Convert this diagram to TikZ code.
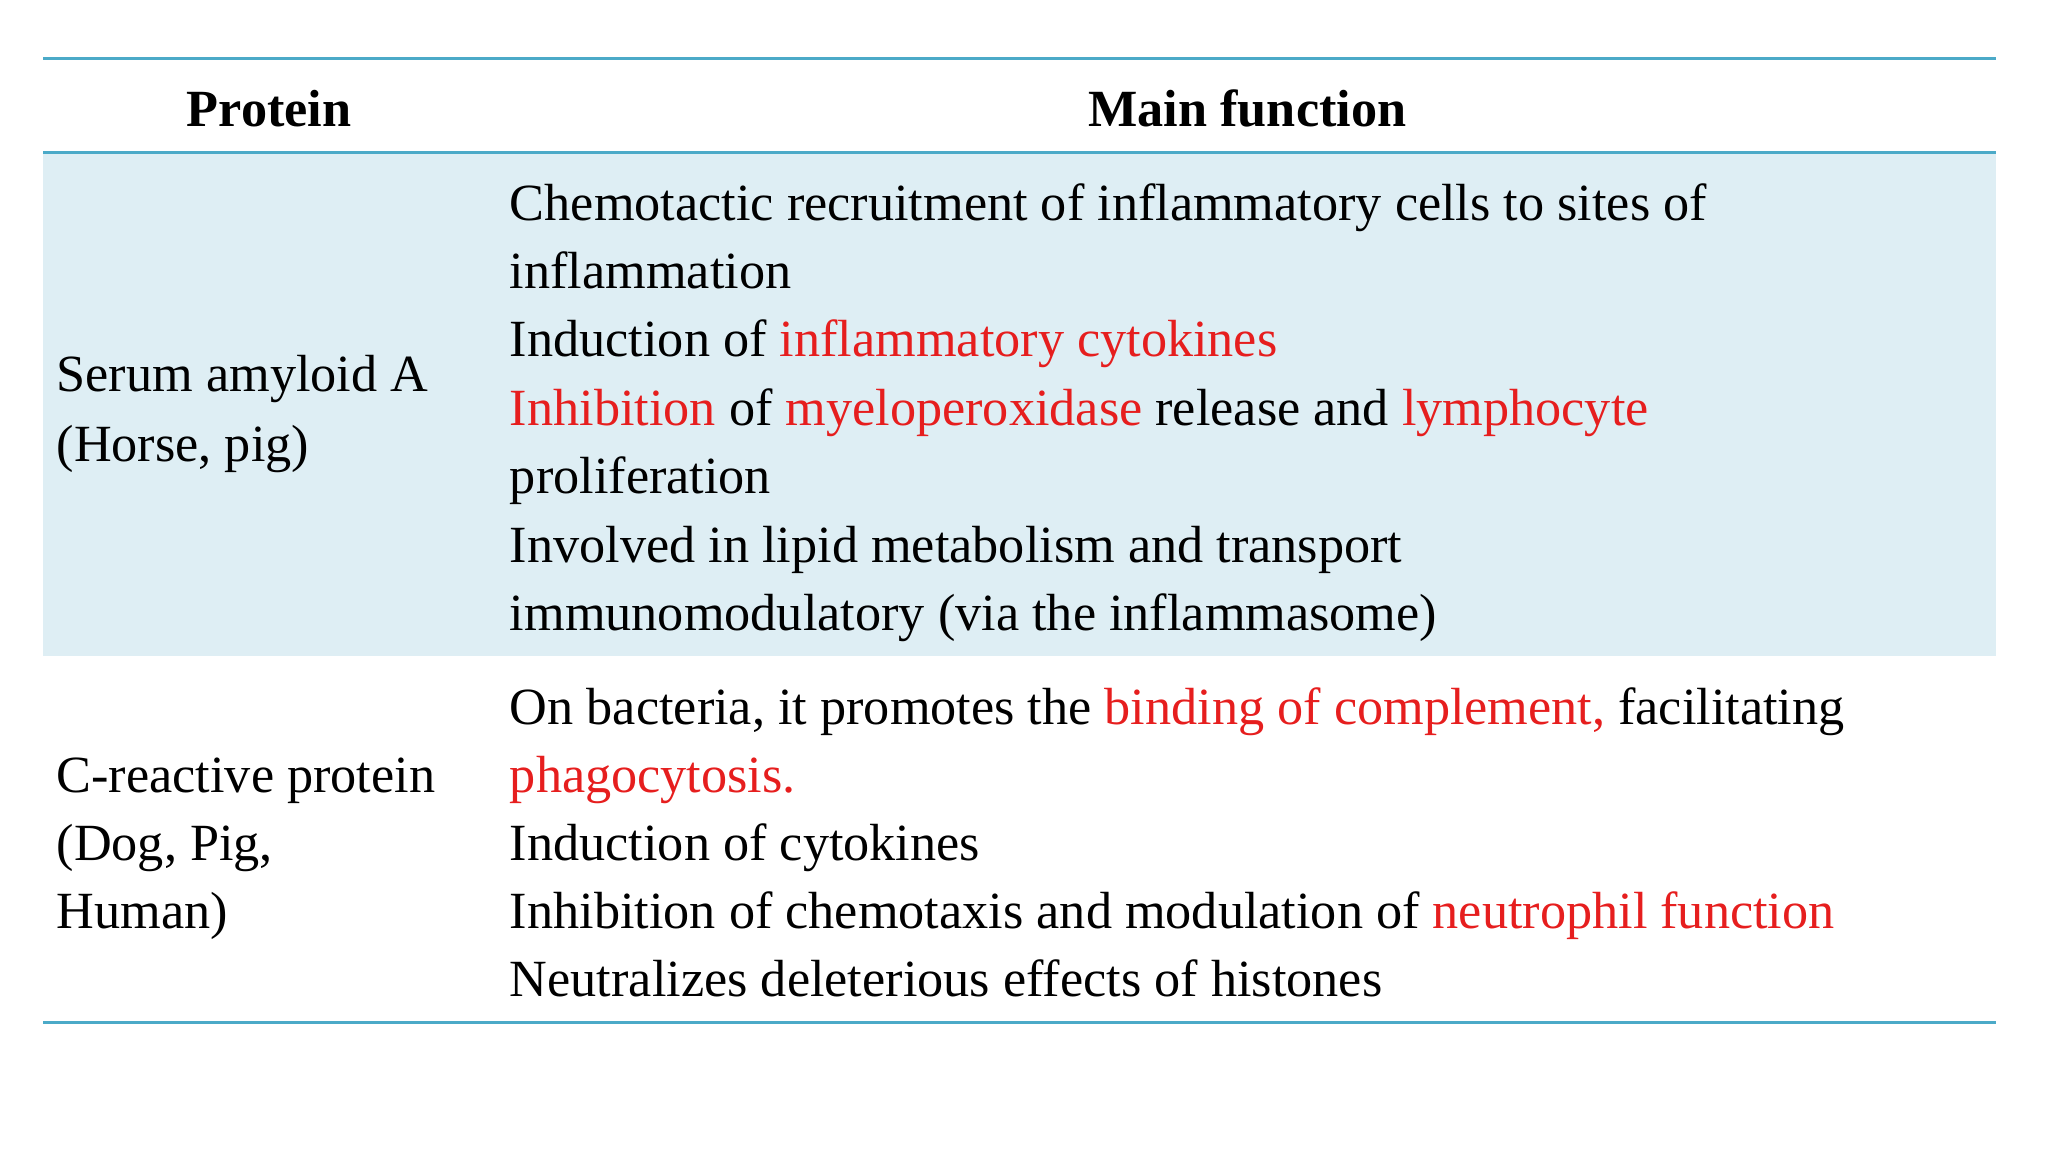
\documentclass[tikz,border=0pt]{standalone}
\usepackage{fontspec}
\setmainfont{Liberation Serif}
\definecolor{rule}{RGB}{75,170,200}
\definecolor{band}{RGB}{222,238,244}
\definecolor{hl}{RGB}{230,30,30}
\begin{document}
\begin{tikzpicture}[x=0.5pt,y=-0.5pt,
  txt/.style={anchor=base west,inner sep=0pt,font=\fontsize{20}{24}\selectfont},
  hd/.style={anchor=base,inner sep=0pt,font=\fontsize{20}{24}\selectfont\bfseries}]
\useasboundingbox (0,0) rectangle (1568,882);
\fill[band] (33,118) rectangle (1528,502);
\draw[rule,line width=1.2pt] (33,45) -- (1528,45);
\draw[rule,line width=1.2pt] (33,117) -- (1528,117);
\draw[rule,line width=1.2pt] (33,783) -- (1528,783);
\node[hd] (h1) at (206,97) {Protein};
\node[hd] (h2) at (955,97) {Main function};
\node[txt] (l1) at (43,300) {Serum amyloid A};
\node[txt] (l2) at (43,353) {(Horse, pig)};
\node[txt] (a1) at (390,169) {Chemotactic recruitment of inflammatory cells to sites of};
\node[txt] (a2) at (390,221) {inflammation};
\node[txt] (a3) at (390,273) {Induction of \textcolor{hl}{inflammatory cytokines}};
\node[txt] (a4) at (390,326) {\textcolor{hl}{Inhibition} of \textcolor{hl}{myeloperoxidase} release and \textcolor{hl}{lymphocyte}};
\node[txt] (a5) at (390,378) {proliferation};
\node[txt] (a6) at (390,431) {Involved in lipid metabolism and transport};
\node[txt] (a7) at (390,483) {immunomodulatory (via the inflammasome)};
\node[txt] (m1) at (43,607) {C-reactive protein};
\node[txt] (m2) at (43,659) {(Dog, Pig,};
\node[txt] (m3) at (43,711) {Human)};
\node[txt] (b1) at (390,555) {On bacteria, it promotes the \textcolor{hl}{binding of complement,} facilitating};
\node[txt] (b2) at (390,607) {\textcolor{hl}{phagocytosis.}};
\node[txt] (b3) at (390,659) {Induction of cytokines};
\node[txt] (b4) at (390,711) {Inhibition of chemotaxis and modulation of \textcolor{hl}{neutrophil function}};
\node[txt] (b5) at (390,763) {Neutralizes deleterious effects of histones};
\end{tikzpicture}
\end{document}
